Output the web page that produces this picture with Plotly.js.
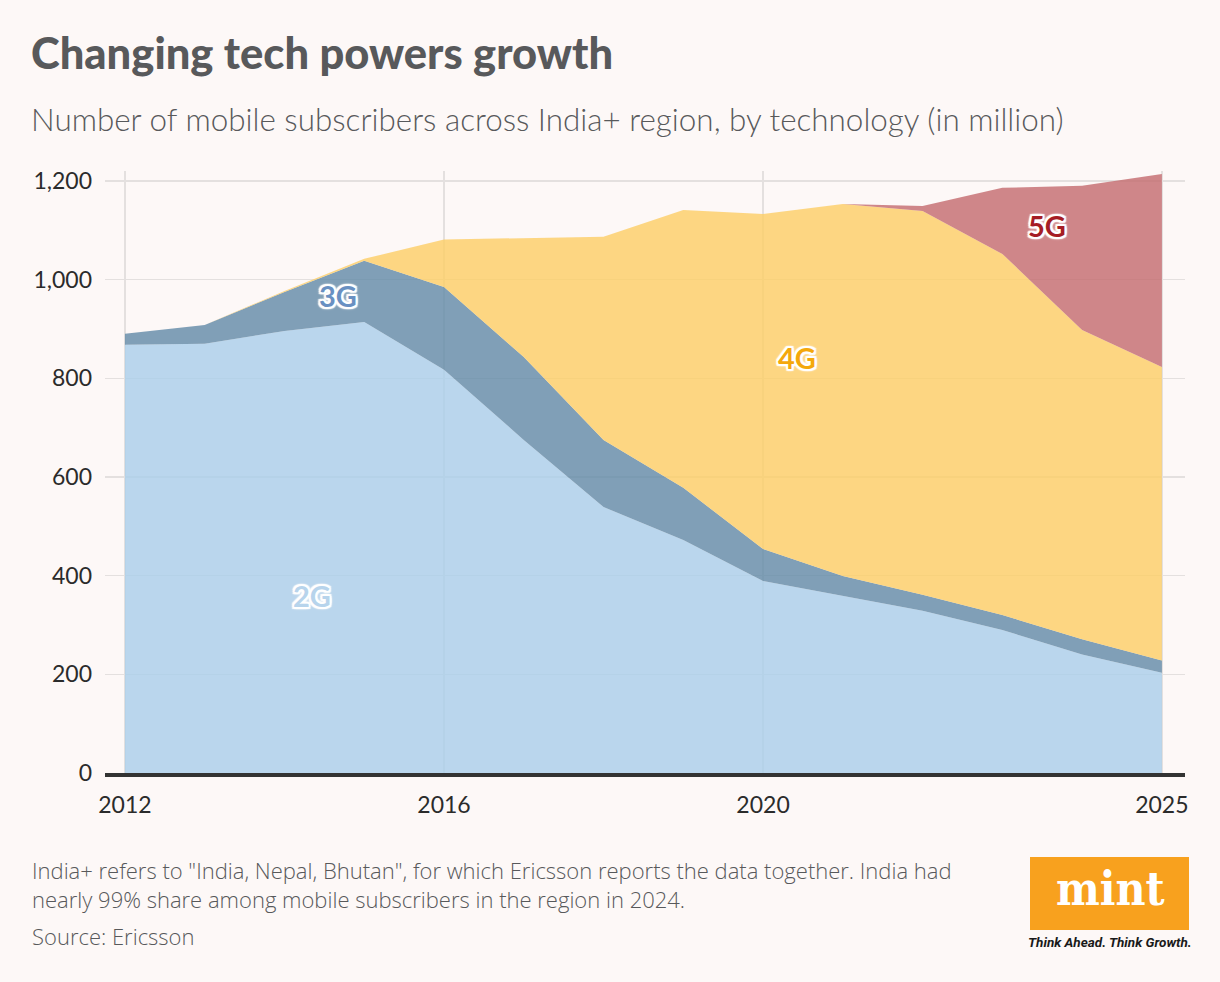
<!DOCTYPE html>
<html>
<head>
<meta charset="utf-8">
<script src="https://cdn.plot.ly/plotly-3.0.1.min.js"></script>
<style>
  html, body { margin: 0; padding: 0; background: #fdf8f7; }
  #chart { width: 1220px; height: 982px; }
</style>
</head>
<body>
<div id="chart"></div>
<script>
// Data (million subscribers)
const years = [2012, 2013, 2014, 2015, 2016, 2017, 2018, 2019, 2020, 2021, 2022, 2023, 2024, 2025];
const subs2G = [868, 870, 896, 914, 817, 675, 539, 472, 389, 359, 329, 290, 240, 203];
const subs3G = [22, 38, 79, 124, 168, 168, 136, 106, 65, 40, 32, 30, 31, 25];
const subs4G = [0, 0, 2, 4, 96, 241, 412, 563, 679, 754, 778, 732, 627, 595];
const subs5G = [0, 0, 0, 0, 0, 0, 0, 0, 0, 0, 10, 134, 292, 391];

const xTickVals = [2012, 2016, 2020, 2025];
const xTickText = ['2012', '2016', '2020', '2025'];
const yTickVals = [0, 200, 400, 600, 800, 1000, 1200];

const series = [
  { name: '2G', values: subs2G, fill: 'rgba(171,206,234,0.82)' },
  { name: '3G', values: subs3G, fill: 'rgba(100,139,168,0.82)' },
  { name: '4G', values: subs4G, fill: 'rgba(252,206,104,0.82)' },
  { name: '5G', values: subs5G, fill: 'rgba(197,108,112,0.82)' }
];

const traces = series.map(s => ({
  type: 'scatter',
  mode: 'lines',
  name: s.name,
  x: years,
  y: s.values,
  stackgroup: 'one',
  line: { width: 0, shape: 'linear' },
  fillcolor: s.fill,
  hoverinfo: 'x+y+name'
}));

const W = 1220, H = 982;
const mL = 105, mR = 35, mT = 171, mB = 209;
const pw = W - mL - mR, ph = H - mT - mB;
const px = X => (X - mL) / pw;           // pixel x -> paper x
const py = Y => (H - mB - Y) / ph;       // pixel y -> paper y

const glow = '0 0 3px #fff, 0 0 3px #fff, 0 0 4px #fff, 2px 0 1px #fff, -2px 0 1px #fff, 0 2px 1px #fff, 0 -2px 1px #fff, 2px 2px 1px #fff, -2px -2px 1px #fff, 2px -2px 1px #fff, -2px 2px 1px #fff';
const lblFont = (c) => ({ family: 'Lato, sans-serif', size: 29, color: c, weight: 900, shadow: glow });

const annotations = [
  { text: 'Changing tech powers growth', xref: 'paper', yref: 'paper', x: px(29), y: py(52),
    xanchor: 'left', yanchor: 'middle', showarrow: false,
    font: { family: 'Lato, sans-serif', size: 43.5, color: '#58595b', weight: 900 } },
  { text: 'Number of mobile subscribers across India+ region, by technology (in million)', xref: 'paper', yref: 'paper',
    x: px(29), y: py(119), xanchor: 'left', yanchor: 'middle', showarrow: false,
    font: { family: 'Lato, sans-serif', size: 31.4, color: '#58595b', weight: 300 } },
  { text: 'India+ refers to "India, Nepal, Bhutan", for which Ericsson reports the data together. India had<br>nearly 99% share among mobile subscribers in the region in 2024.',
    xref: 'paper', yref: 'paper', x: px(30), y: py(884), xanchor: 'left', yanchor: 'middle', align: 'left', showarrow: false,
    font: { family: 'Open Sans, sans-serif', size: 22, color: '#58595b', weight: 300 } },
  { text: 'Source: Ericsson', xref: 'paper', yref: 'paper', x: px(30), y: py(936), xanchor: 'left', yanchor: 'middle', showarrow: false,
    font: { family: 'Open Sans, sans-serif', size: 22, color: '#58595b', weight: 300 } },
  { text: 'mint', xref: 'paper', yref: 'paper', x: px(1110), y: py(889), xanchor: 'center', yanchor: 'middle', showarrow: false,
    font: { family: 'DejaVu Serif Condensed, DejaVu Serif, serif', size: 46, color: '#ffffff', weight: 'bold' } },
  { text: 'Think Ahead. Think Growth.', xref: 'paper', yref: 'paper', x: px(1110), y: py(942), xanchor: 'center', yanchor: 'middle', showarrow: false,
    font: { family: 'Roboto, sans-serif', size: 13.5, color: '#1a1a1a', weight: 'bold', style: 'italic' } },
  // series labels
  { text: '<b>3G</b>', x: 2014.67, y: 967, xref: 'x', yref: 'y', showarrow: false, font: lblFont('#6990c2') },
  { text: '<b>4G</b>', x: 2020.42, y: 843, xref: 'x', yref: 'y', showarrow: false, font: lblFont('#f4a80c') },
  { text: '<b>5G</b>', x: 2023.56, y: 1109, xref: 'x', yref: 'y', showarrow: false, font: lblFont('#a51d25') },
  { text: '<b>2G</b>', x: 2014.34, y: 359, xref: 'x', yref: 'y', showarrow: false, font: lblFont('#b7d4ec') }
];

const shapes = [
  { type: 'rect', xref: 'paper', yref: 'paper', x0: px(1030), x1: px(1189), y0: py(930), y1: py(857),
    fillcolor: '#f8a11e', line: { width: 0 }, layer: 'below' }
];

const layout = {
  width: W, height: H,
  margin: { l: mL, r: mR, t: mT, b: mB, pad: 0 },
  paper_bgcolor: '#fdf8f7',
  plot_bgcolor: '#fdf8f7',
  showlegend: false,
  xaxis: {
    range: [2011.75, 2025.29],
    tickmode: 'array', tickvals: xTickVals, ticktext: xTickText,
    showgrid: true, gridcolor: '#e4e0df', gridwidth: 1.5,
    zeroline: false,
    showline: true, linecolor: '#333333', linewidth: 4, layer: 'above traces',
    ticks: '', ticklabelstandoff: 8,
    tickfont: { family: 'Lato, sans-serif', size: 23, color: '#2b2b2b' },
    fixedrange: true
  },
  yaxis: {
    range: [0, 1220],
    tickmode: 'array', tickvals: yTickVals, tickformat: ',',
    showgrid: true, gridcolor: '#e4e0df', gridwidth: 1.5,
    zeroline: false, showline: false,
    ticks: '', ticklabelstandoff: 12,
    tickfont: { family: 'Lato, sans-serif', size: 23, color: '#2b2b2b' },
    fixedrange: true
  },
  annotations: annotations,
  shapes: shapes
};

Plotly.newPlot('chart', traces, layout, { displayModeBar: false, staticPlot: true });
</script>
</body>
</html>
